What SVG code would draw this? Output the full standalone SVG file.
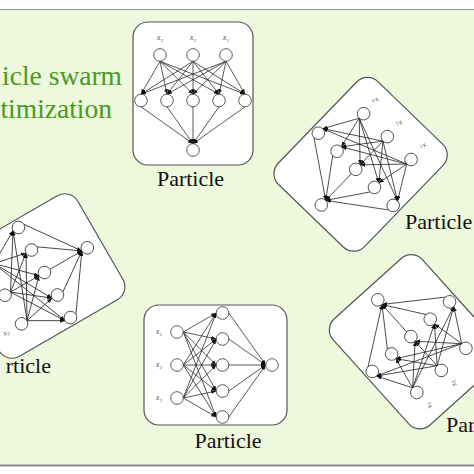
<svg xmlns="http://www.w3.org/2000/svg" width="474" height="474" viewBox="0 0 474 474">
<style>
.bg{fill:#edf8dd}
.frame{stroke:#8e8e8e;fill:none}
.box{fill:#fff;stroke:#555;stroke-width:1.2}
.n{fill:#fff;stroke:#333;stroke-width:0.8}
.e{stroke:#222;stroke-width:0.75;fill:none;marker-end:url(#ah)}
.lbl{font-family:"Liberation Serif","Times New Roman",serif;font-size:22px;fill:#111}
.x{font-family:"Liberation Serif",serif;font-style:italic;font-size:7.5px;fill:#444;text-anchor:middle}
.title{font-family:"Liberation Serif","Times New Roman",serif;font-size:27.5px;fill:#4a9a22;text-anchor:end}
</style>
<defs>
<marker id="ah" markerUnits="userSpaceOnUse" markerWidth="5" markerHeight="4" refX="5" refY="2" orient="auto"><path d="M0,0 L5,2 L0,4 z" fill="#111"/></marker>
<g id="net">
<g id="net-connectors">
<path class="e" d="M-32.2,-33 L0.7,-52"/>
<path class="e" d="M-32.2,-33 L0.7,-26"/>
<path class="e" d="M-32.2,-33 L0.7,0"/>
<path class="e" d="M-32.2,-33 L0.7,26"/>
<path class="e" d="M-32.2,-33 L0.7,52"/>
<path class="e" d="M-32.2,0 L0.7,-52"/>
<path class="e" d="M-32.2,0 L0.7,-26"/>
<path class="e" d="M-32.2,0 L0.7,0"/>
<path class="e" d="M-32.2,0 L0.7,26"/>
<path class="e" d="M-32.2,0 L0.7,52"/>
<path class="e" d="M-32.2,33 L0.7,-52"/>
<path class="e" d="M-32.2,33 L0.7,-26"/>
<path class="e" d="M-32.2,33 L0.7,0"/>
<path class="e" d="M-32.2,33 L0.7,26"/>
<path class="e" d="M-32.2,33 L0.7,52"/>
<path class="e" d="M13.3,-52 L50.2,0"/>
<path class="e" d="M13.3,-26 L50.2,0"/>
<path class="e" d="M13.3,0 L50.2,0"/>
<path class="e" d="M13.3,26 L50.2,0"/>
<path class="e" d="M13.3,52 L50.2,0"/>
</g>
<g id="net-neurons">
<circle class="n" cx="-38.5" cy="-33" r="6.3"/>
<circle class="n" cx="-38.5" cy="0" r="6.3"/>
<circle class="n" cx="-38.5" cy="33" r="6.3"/>
<circle class="n" cx="7" cy="-52" r="6.3"/>
<circle class="n" cx="7" cy="-26" r="6.3"/>
<circle class="n" cx="7" cy="0" r="6.3"/>
<circle class="n" cx="7" cy="26" r="6.3"/>
<circle class="n" cx="7" cy="52" r="6.3"/>
<circle class="n" cx="56.5" cy="0" r="6.3"/>
</g>
</g>
<g id="inlabels">
<text class="x" x="-56.5" y="-31">x<tspan font-size="5" dy="1.5">1</tspan></text>
<text class="x" x="-56.5" y="2">x<tspan font-size="5" dy="1.5">2</tspan></text>
<text class="x" x="-56.5" y="35">x<tspan font-size="5" dy="1.5">3</tspan></text>
</g>
</defs>

<rect class="bg" x="0" y="9" width="474" height="456"/>
<line class="frame" x1="0" y1="9.5" x2="474" y2="9.5" stroke-width="1.2"/>
<line class="frame" x1="0" y1="465.5" x2="474" y2="465.5" stroke-width="2"/>

<g id="title">
<text class="title" x="122" y="85">icle swarm</text>
<text class="title" x="112" y="118">timization</text>
</g>

<g id="particle-1">
<g transform="translate(193,93.5) rotate(90)">
<rect class="box" x="-71.5" y="-60" width="143" height="120" rx="15"/>
<use href="#net"/>
</g>
<text class="x" x="160" y="40">x<tspan font-size="5" dy="1.5">3</tspan></text>
<text class="x" x="193" y="40">x<tspan font-size="5" dy="1.5">2</tspan></text>
<text class="x" x="226" y="40">x<tspan font-size="5" dy="1.5">1</tspan></text>
<text class="lbl" x="190.5" y="185.5" text-anchor="middle">Particle</text>
</g>

<g id="particle-2">
<g transform="translate(360.6,164.3) rotate(134)">
<rect class="box" x="-71.5" y="-60" width="143" height="120" rx="15"/>
<use href="#net"/>
<use href="#inlabels"/>
</g>
<text class="lbl" x="405" y="229">Particle</text>
</g>

<g id="particle-3">
<g transform="translate(38.4,276) rotate(-30)">
<rect class="box" x="-71.5" y="-60" width="143" height="120" rx="15"/>
<use href="#net"/>
<use href="#inlabels"/>
</g>
<text class="lbl" x="51" y="373" text-anchor="end">rticle</text>
</g>

<g id="particle-4">
<g transform="translate(215.5,365)">
<rect class="box" x="-71.5" y="-60" width="143" height="120" rx="15"/>
<use href="#net"/>
<use href="#inlabels"/>
</g>
<text class="lbl" x="228" y="448" text-anchor="middle">Particle</text>
</g>

<g id="particle-5">
<g transform="translate(415.6,341.8) rotate(228)">
<rect class="box" x="-71.5" y="-60" width="143" height="120" rx="15"/>
<use href="#net"/>
<use href="#inlabels"/>
</g>
<text class="lbl" x="446" y="432">Par</text>
</g>
</svg>
